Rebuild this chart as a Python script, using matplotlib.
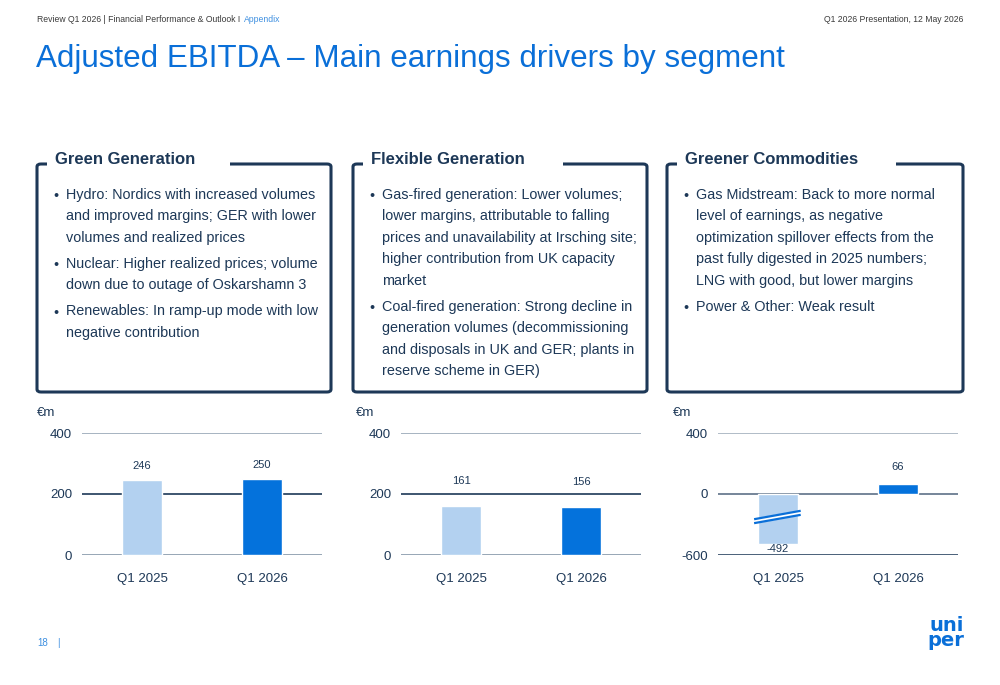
import numpy as np
import matplotlib
matplotlib.use("Agg")
import matplotlib.pyplot as plt
from matplotlib.patches import FancyBboxPatch, Rectangle

# --- data ---
periods = ["Q1 2025", "Q1 2026"]
green_gen = [246, 250]
flex_gen = [161, 156]
greener_comm = [-492, 66]

panel_titles = ["Green Generation", "Flexible Generation", "Greener Commodities"]
bullets_green = [
    "Hydro: Nordics with increased volumes\nand improved margins; GER with lower\nvolumes and realized prices",
    "Nuclear: Higher realized prices; volume\ndown due to outage of Oskarshamn 3",
    "Renewables: In ramp-up mode with low\nnegative contribution",
]
bullets_flex = [
    "Gas-fired generation: Lower volumes;\nlower margins, attributable to falling\nprices and unavailability at Irsching site;\nhigher contribution from UK capacity\nmarket",
    "Coal-fired generation: Strong decline in\ngeneration volumes (decommissioning\nand disposals in UK and GER; plants in\nreserve scheme in GER)",
]
bullets_comm = [
    "Gas Midstream: Back to more normal\nlevel of earnings, as negative\noptimization spillover effects from the\npast fully digested in 2025 numbers;\nLNG with good, but lower margins",
    "Power & Other: Weak result",
]

# --- style ---
NAVY = "#1d3857"
BLUE = "#0a6fd8"
LIGHT = "#b3d1f0"
DARK = "#0472dc"
plt.rcParams["font.family"] = ["Liberation Sans", "DejaVu Sans"]

W, H = 1000, 685
fig = plt.figure(figsize=(10, 6.85), dpi=100)


def fx(px):
    return px / W


def fy(py):
    return 1 - py / H


# header
hdr = fig.text(fx(37), fy(20), "Review Q1 2026 | Financial Performance & Outlook I",
               fontsize=6.2, color="#3a3a3a", va="center")
fig.canvas.draw()
hx = hdr.get_window_extent().x1
fig.text(hx / W + fx(4), fy(20), "Appendix", fontsize=6.2, color="#3d8fe0", va="center")
fig.text(fx(963), fy(20), "Q1 2026 Presentation, 12 May 2026", fontsize=6.2,
         color="#3a3a3a", va="center", ha="right")
fig.text(fx(36), fy(59), "Adjusted EBITDA \u2013 Main earnings drivers by segment",
         fontsize=22.6, color=BLUE, va="center")

# text boxes
boxes = [(37, 331, 47, 230), (353, 647, 363, 563), (667, 963, 677, 896)]
bullet_sets = [bullets_green, bullets_flex, bullets_comm]
for (x0, x1, g0, g1), title, bullets in zip(boxes, panel_titles, bullet_sets):
    top, bot = 164, 392
    fig.add_artist(FancyBboxPatch((fx(x0), fy(bot)), fx(x1 - x0), (bot - top) / H,
                                  boxstyle="round,pad=0,rounding_size=0.004",
                                  transform=fig.transFigure, fill=False,
                                  edgecolor=NAVY, linewidth=2.2))
    fig.add_artist(Rectangle((fx(g0), fy(top + 4)), fx(g1 - g0), 8 / H,
                             transform=fig.transFigure, facecolor="white",
                             edgecolor="none", zorder=3))
    fig.text(fx(x0 + 18), fy(159), title, fontsize=12, fontweight="bold",
             color=NAVY, va="center", zorder=4)
    y = 194
    for b in bullets:
        n = b.count("\n") + 1
        fig.text(fx(x0 + 16), fy(y + 2), "\u2022", fontsize=10.4, color=NAVY, va="center")
        fig.text(fx(x0 + 29), fy(y - 6), b, fontsize=10.4, color=NAVY, va="top",
                 linespacing=1.68)
        y += n * 21.5 + 4.5

# charts
charts = [
    (82, green_gen, [0, 200, 400], ["#8597a9", NAVY, "#97a7b6"], 10),
    (401, flex_gen, [0, 200, 400], ["#8597a9", NAVY, "#97a7b6"], 18),
    (718, greener_comm, [-600, 0, 400], ["#2b4562", "#5d7187", "#a3b0bd"], 12),
]
for left, vals, ticks, gcols, off in charts:
    ax = fig.add_axes([fx(left), fy(555), fx(240), 122 / H])
    if ticks[0] < 0:
        # compressed negative range (broken axis)
        ax.set_yscale("function", functions=(
            lambda y: np.where(np.asarray(y) < 0, np.asarray(y) * 400 / 600, y),
            lambda y: np.where(np.asarray(y) < 0, np.asarray(y) * 600 / 400, y)))
    ax.set_ylim(ticks[0], ticks[-1])
    ax.set_xlim(-0.5, 1.5)
    for t, c in zip(ticks, gcols):
        ax.axhline(t, color=c, lw=1.2, zorder=1)
    x = np.arange(len(periods))
    ax.bar(x, vals, width=0.33, color=[LIGHT, DARK], edgecolor="white",
           linewidth=1, zorder=2)
    for xi, v in zip(x, vals):
        if v >= 0:
            ax.annotate(str(v), (xi, v), xytext=(0, off), textcoords="offset points",
                        ha="center", va="center", fontsize=8, color=NAVY)
        else:
            ax.annotate(str(v), (xi, v), ha="center", va="top",
                        fontsize=8, color=NAVY, zorder=5)
    if vals[0] < 0:
        # break marker on the truncated bar
        bx = [-0.19, 0.18]
        ax.fill([bx[0], bx[1], bx[1], bx[0]], [-246, -167, -207, -285],
                color="white", zorder=3)
        ax.plot(bx, [-246, -167], color=BLUE, lw=1.6, zorder=4)
        ax.plot(bx, [-285, -207], color=BLUE, lw=1.6, zorder=4)
    ax.set_yticks(ticks)
    ax.set_yticklabels([str(t) for t in ticks])
    ax.set_xticks(x)
    ax.set_xticklabels(periods)
    ax.tick_params(length=0, colors=NAVY, labelsize=9.5)
    ax.tick_params(axis="x", pad=13)
    ax.tick_params(axis="y", pad=7)
    for s in ax.spines.values():
        s.set_visible(False)
    ax.patch.set_alpha(0)
    fig.text(fx(left - 45), fy(413), "\u20acm", fontsize=9.5, color=NAVY, va="center")

# footer
fig.text(fx(37), fy(643), "18", fontsize=7, color="#3d8fe0", va="center")
fig.text(fx(57), fy(643), "|", fontsize=7, color="#3d8fe0", va="center")
fig.text(fx(964), fy(633), "uni\nper", fontsize=14, fontweight="bold", color=BLUE,
         ha="right", va="center", linespacing=0.75, family="DejaVu Sans")

fig.savefig("out.png", dpi=100)
